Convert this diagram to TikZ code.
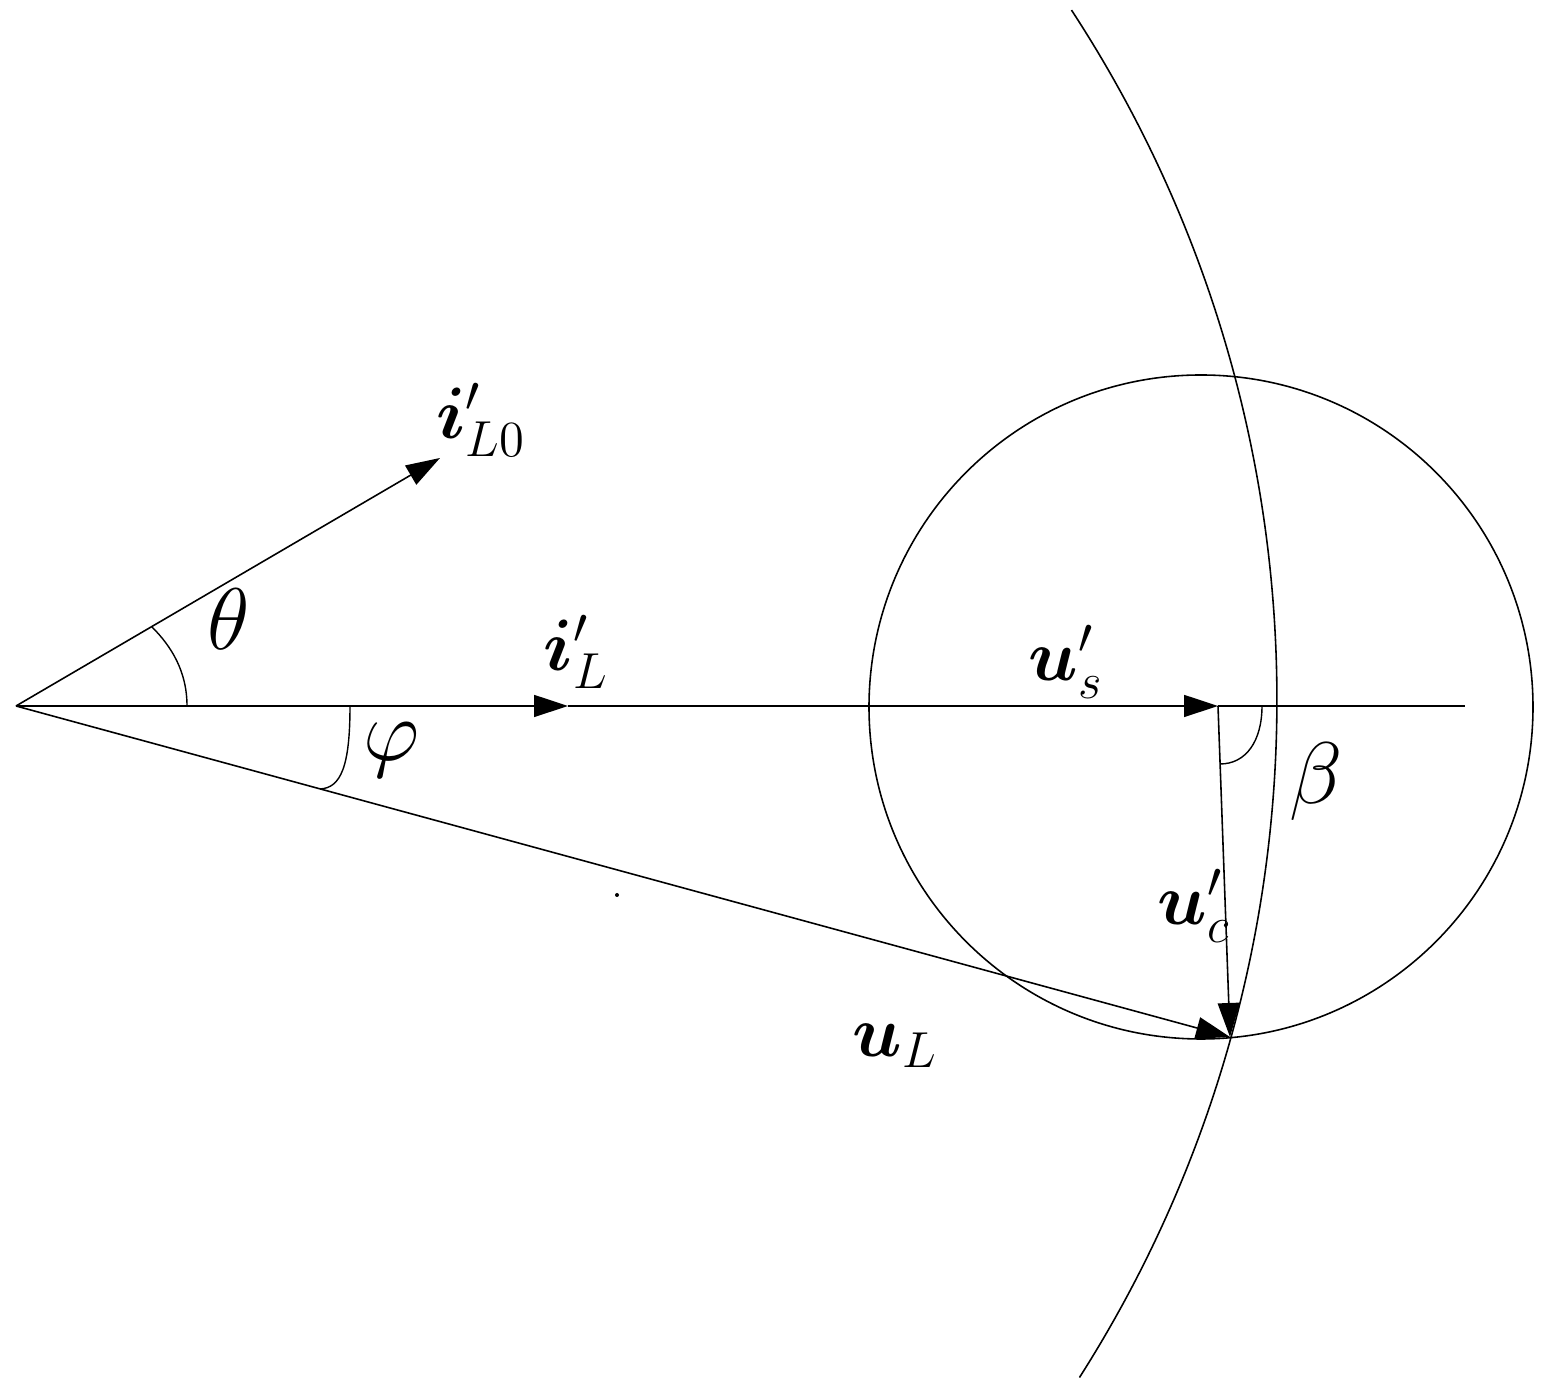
\documentclass[tikz,border=0pt]{standalone}
\usepackage{bm}
\usetikzlibrary{arrows.meta}
\begin{document}
\begin{tikzpicture}
[line width=0.45pt,
 vec/.style={-{Triangle[length=3.4mm,width=2.2mm]}},
 lbl/.style={inner sep=0pt,font=\fontsize{21}{24}\selectfont},
 glbl/.style={inner sep=0pt,font=\fontsize{25}{28}\selectfont},
 ang/.style={line width=0.4pt}]
\useasboundingbox (-0.16,-6.89) rectangle (15.39,7.06);
\coordinate (O) at (0,0);
\coordinate (A) at (4.24,2.48);
\coordinate (L) at (5.52,0);
\coordinate (S) at (12.02,0);
\coordinate (E) at (14.49,0);
\coordinate (U) at (12.14,-3.31);
\coordinate (C) at (11.85,-0.01);
\coordinate (K) at (0,0.06);

% phasors
\draw[vec] (O) -- (A);
\draw[vec] (O) -- (L);
\draw[vec] (L) -- (S);
\draw      (S) -- (E);
\draw[vec] (O) -- (U);
\draw[vec] (S) -- (U);

% circles
\draw (C) circle[radius=3.32];
\draw (K) ++(-32.5:12.61) arc[start angle=-32.5,end angle=33.17,radius=12.61];

% angle marks
\draw[ang] (1.71,0) .. controls (1.71,0.35) and (1.55,0.6) .. (1.36,0.79);
\draw[ang] (3.34,0) .. controls (3.34,-0.6) and (3.25,-0.82) .. (3.04,-0.83);
\draw[ang] (12.46,0) .. controls (12.46,-0.35) and (12.3,-0.58) .. (12.04,-0.58);
\fill (6.01,-1.89) circle[radius=0.02];

% labels
\node[lbl]  (iL0) at (4.65,2.86)   {$\bm{i}'_{L0}$};
\node[glbl] (th)  at (2.13,0.87)   {$\theta$};
\node[lbl]  (iL)  at (5.60,0.54)   {$\bm{i}'_{L}$};
\node[glbl] (ph)  at (3.76,-0.44)  {$\varphi$};
\node[lbl]  (us)  at (10.50,0.44)  {$\bm{u}'_{s}$};
\node[glbl] (be)  at (13.00,-0.76) {$\beta$};
\node[lbl]  (uc)  at (11.78,-2.00) {$\bm{u}'_{c}$};
\node[lbl]  (uL)  at (8.79,-3.40)  {$\bm{u}_{L}$};
\end{tikzpicture}
\end{document}
